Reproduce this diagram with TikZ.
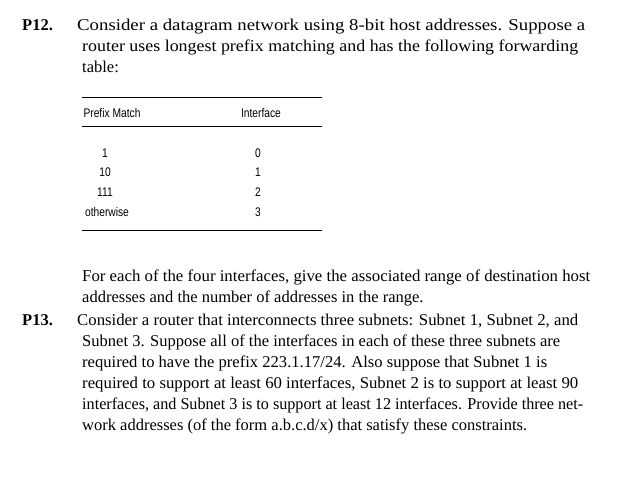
\documentclass[tikz,border=0pt]{standalone}
\usepackage{fontspec}
\usepackage{graphicx}
\setmainfont{Liberation Serif}
\newfontfamily\tabfont{Liberation Sans}
\newcommand{\jl}[2]{\resizebox{#1pt}{\height}{#2}}
\begin{document}
\begin{tikzpicture}[x=1pt,y=-1pt,
  ln/.style={anchor=base west,inner sep=0pt,font=\fontsize{16.5}{18}\selectfont},
  tb/.style={anchor=base,inner sep=0pt,font=\tabfont\fontsize{12.5}{14}\selectfont,xscale=0.82},
  rule/.style={line width=0.8pt}]
\useasboundingbox (0,0) rectangle (628,493);
\node[ln] (p12) at (22,30) {\textbf{P12.}};
\node[ln] (l1) at (77,30) {\jl{508}{Consider a datagram network using 8-bit host addresses. Suppose a}};
\node[ln] (l2) at (82,51) {\jl{496}{router uses longest prefix matching and has the following forwarding}};
\node[ln] (l3) at (82,72) {table:};
\coordinate (r1a) at (82,97); \coordinate (r1b) at (322,97);
\coordinate (r2a) at (82,126); \coordinate (r2b) at (322,126);
\coordinate (r3a) at (82,230); \coordinate (r3b) at (322,230);
\draw[rule] (r1a) -- (r1b);
\draw[rule] (r2a) -- (r2b);
\draw[rule] (r3a) -- (r3b);
\node[tb] (h1) at (112,117) {Prefix Match};
\node[tb] (h2) at (261,117) {Interface};
\node[tb] (a1) at (105,157) {1};        \node[tb] (b1) at (258,157) {0};
\node[tb] (a2) at (105,176) {10};       \node[tb] (b2) at (258,176) {1};
\node[tb] (a3) at (105,196) {111};      \node[tb] (b3) at (258,196) {2};
\node[tb] (a4) at (107,216) {otherwise};\node[tb] (b4) at (258,216) {3};
\node[ln] (l4) at (82,281) {\jl{508}{For each of the four interfaces, give the associated range of destination host}};
\node[ln] (l5) at (82,302) {addresses and the number of addresses in the range.};
\node[ln] (p13) at (22,325) {\textbf{P13.}};
\node[ln] (l6) at (77,325) {\jl{501}{Consider a router that interconnects three subnets: Subnet 1, Subnet 2, and}};
\node[ln] (l7) at (82,346) {\jl{478}{Subnet 3. Suppose all of the interfaces in each of these three subnets are}};
\node[ln] (l8) at (82,367) {\jl{465}{required to have the prefix 223.1.17/24. Also suppose that Subnet 1 is}};
\node[ln] (l9) at (82,388) {\jl{496}{required to support at least 60 interfaces, Subnet 2 is to support at least 90}};
\node[ln] (l10) at (82,409) {\jl{501}{interfaces, and Subnet 3 is to support at least 12 interfaces. Provide three net-}};
\node[ln] (l11) at (82,430) {work addresses (of the form a.b.c.d/x) that satisfy these constraints.};
\end{tikzpicture}
\end{document}
